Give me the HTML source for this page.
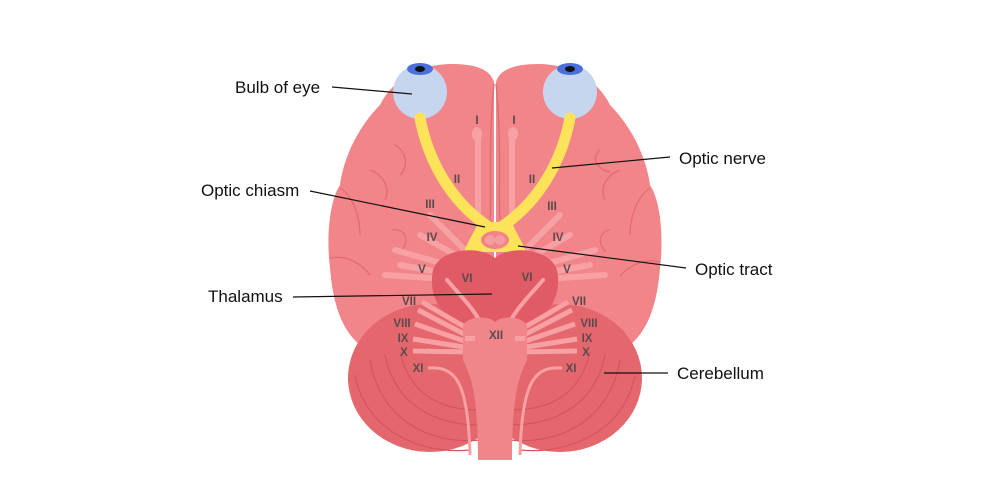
<!DOCTYPE html>
<html><head><meta charset="utf-8"><style>
html,body{margin:0;padding:0;background:#fff;}
svg{display:block;}
text{font-family:"Liberation Sans",sans-serif;}
.lb{font-size:17px;fill:#111;}
.n{font-size:11.5px;font-weight:bold;fill:#5a4a4c;text-anchor:middle;}
</style></head><body>
<svg width="989" height="500" viewBox="0 0 989 500" xmlns="http://www.w3.org/2000/svg">
<g fill="#f1858a">
<path d="M494,82 C490,68 472,64 452,64 C420,64 392,80 380,105 C360,125 344,155 340,185 C330,200 326,235 330,268 C333,305 342,330 360,345 L494,345 Z"/>
<path d="M496,82 C500,68 518,64 538,64 C570,64 598,80 610,105 C630,125 646,155 650,185 C660,200 664,235 660,268 C657,305 648,330 630,345 L496,345 Z"/>
</g>
<g fill="none" stroke="#e46b73" stroke-width="1.3">
<path d="M340,188 C352,195 360,215 360,235 M330,258 C345,255 360,262 370,275"/>
<path d="M650,188 C638,196 630,215 630,235 M660,262 C646,258 631,264 620,276"/>
<path d="M395,145 C405,150 410,165 400,175 M392,230 C405,228 410,240 402,250 M370,170 C385,175 390,190 385,200"/>
<path d="M600,150 C590,158 598,170 610,172 M610,230 C598,232 598,245 606,252 M620,170 C605,175 600,190 605,200"/>
<path d="M494,84 C488,140 492,200 490,220 M496,84 C502,140 498,200 500,220" stroke="#e06a72"/>
</g>
<g fill="#f7a1a4">
<rect x="475" y="130" width="6" height="90" rx="3"/><ellipse cx="477" cy="134" rx="5" ry="7"/>
<rect x="509" y="130" width="6" height="90" rx="3"/><ellipse cx="513" cy="134" rx="5" ry="7"/>
</g>
<g stroke="#f7a1a4" stroke-width="6" stroke-linecap="round" fill="none">
<path d="M470,255 L430,215 M468,262 L420,235 M465,270 L395,250 M460,280 L385,275 M455,275 L400,265"/>
<path d="M520,255 L560,215 M522,262 L570,235 M525,270 L595,250 M530,280 L605,275 M535,275 L590,265"/>
</g>
<g fill="#e5676e">
<ellipse cx="430" cy="378" rx="82" ry="74"/>
<ellipse cx="560" cy="378" rx="82" ry="74"/>
</g>
<g fill="none" stroke="#d4555d" stroke-width="1.2">
<path d="M370,360 C380,420 430,445 480,440 M385,355 C395,405 435,425 480,425 M400,352 C410,395 440,410 480,410 M355,375 C365,430 420,455 470,450"/>
<path d="M620,360 C610,420 560,445 510,440 M605,355 C595,405 555,425 510,425 M590,352 C580,395 550,410 510,410 M635,375 C625,430 570,455 520,450"/>
</g>
<circle cx="420" cy="92" r="27" fill="#c6d6ef"/>
<ellipse cx="420" cy="69" rx="13" ry="6" fill="#4b6fdd"/><ellipse cx="420" cy="69" rx="5" ry="3" fill="#111"/>
<circle cx="570" cy="92" r="27" fill="#c6d6ef"/>
<ellipse cx="570" cy="69" rx="13" ry="6" fill="#4b6fdd"/><ellipse cx="570" cy="69" rx="5" ry="3" fill="#111"/>
<path d="M420,118 C428,160 450,200 486,225 M570,118 C562,160 540,200 504,225" stroke="#fde35a" stroke-width="11" fill="none" stroke-linecap="round"/>
<path d="M478,222 L512,222 C515,232 522,240 526,252 L464,252 C468,240 475,232 478,222 Z" fill="#fde35a"/>
<ellipse cx="495" cy="240" rx="14" ry="9" fill="#f1858a"/>
<circle cx="490" cy="240" r="5" fill="#f59da0"/><circle cx="500" cy="240" r="5" fill="#f59da0"/>
<path d="M495,258 C480,245 440,248 433,270 C428,295 440,318 465,323 L525,323 C550,318 562,295 557,270 C550,248 510,245 495,258 Z" fill="#e05b65"/>
<g stroke="#f7a1a4" stroke-width="4" fill="none" stroke-linecap="round">
<path d="M447,280 C460,295 470,305 478,318 M543,280 C530,295 520,305 512,318"/>
</g>
<g stroke="#f7a1a4" stroke-width="5" fill="none">
<path d="M422,302 L470,330 M418,310 L470,337 M415,324 L470,343 M413,339 L470,348 M413,351 L470,352"/>
<path d="M568,302 L520,330 M572,310 L520,337 M575,324 L520,343 M577,339 L520,348 M577,351 L520,352"/>
<path d="M428,368 C455,366 468,380 470,455 M562,368 C535,366 522,380 520,455" stroke-width="3"/>
</g>
<path d="M463,325 C470,315 490,316 495,322 C500,316 520,315 527,325 L527,360 C520,375 512,390 512,460 L478,460 C478,390 470,375 463,360 Z" fill="#f0858a"/>
<rect x="465" y="336" width="10" height="5" fill="#f7a1a4"/><rect x="515" y="336" width="10" height="5" fill="#f7a1a4"/>
<text class="n" x="477" y="124">I</text><text class="n" x="514" y="124">I</text>
<text class="n" x="457" y="183">II</text><text class="n" x="532" y="183">II</text>
<text class="n" x="430" y="208">III</text><text class="n" x="552" y="210">III</text>
<text class="n" x="432" y="241">IV</text><text class="n" x="558" y="241">IV</text>
<text class="n" x="422" y="273">V</text><text class="n" x="567" y="273">V</text>
<text class="n" x="467" y="282">VI</text><text class="n" x="527" y="281">VI</text>
<text class="n" x="409" y="305">VII</text><text class="n" x="579" y="305">VII</text>
<text class="n" x="402" y="327">VIII</text><text class="n" x="589" y="327">VIII</text>
<text class="n" x="403" y="342">IX</text><text class="n" x="587" y="342">IX</text>
<text class="n" x="404" y="356">X</text><text class="n" x="586" y="356">X</text>
<text class="n" x="418" y="372">XI</text><text class="n" x="571" y="372">XI</text>
<text class="n" x="496" y="339">XII</text>
<g stroke="#111" stroke-width="1.2">
<line x1="332" y1="87" x2="412" y2="94"/>
<line x1="552" y1="168" x2="670" y2="157"/>
<line x1="310" y1="191" x2="485" y2="227"/>
<line x1="518" y1="246" x2="686" y2="268"/>
<line x1="293" y1="297" x2="492" y2="294"/>
<line x1="604" y1="373" x2="668" y2="373"/>
</g>
<text class="lb" x="235" y="93">Bulb of eye</text>
<text class="lb" x="679" y="164">Optic nerve</text>
<text class="lb" x="201" y="196">Optic chiasm</text>
<text class="lb" x="695" y="275">Optic tract</text>
<text class="lb" x="208" y="302">Thalamus</text>
<text class="lb" x="677" y="379">Cerebellum</text>
</svg>
</body></html>
